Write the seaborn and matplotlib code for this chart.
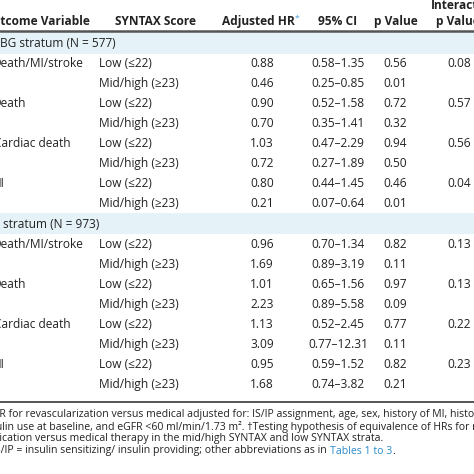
import matplotlib
matplotlib.use("Agg")
import matplotlib.pyplot as plt
import seaborn as sns

sns.set_theme(style="white")
plt.rcParams['font.family'] = ['Open Sans', 'DejaVu Sans']

strata = ["CABG stratum (N = 577)", "PCI stratum (N = 973)"]
outcomes = ["Death/MI/stroke", "Death", "Cardiac death", "MI"]
syntax = ["Low (\u226422)", "Mid/high (\u226523)"]
hr = [[0.88, 0.46, 0.90, 0.70, 1.03, 0.72, 0.80, 0.21],
      [0.96, 1.69, 1.01, 2.23, 1.13, 3.09, 0.95, 1.68]]
ci = [["0.58\u20131.35", "0.25\u20130.85", "0.52\u20131.58", "0.35\u20131.41",
       "0.47\u20132.29", "0.27\u20131.89", "0.44\u20131.45", "0.07\u20130.64"],
      ["0.70\u20131.34", "0.89\u20133.19", "0.65\u20131.56", "0.89\u20135.58",
       "0.52\u20132.45", "0.77\u201312.31", "0.59\u20131.52", "0.74\u20133.82"]]
pval = [["0.56", "0.01", "0.72", "0.32", "0.94", "0.50", "0.46", "0.01"],
        ["0.82", "0.11", "0.97", "0.09", "0.77", "0.11", "0.82", "0.21"]]
pint = [["0.08", "0.57", "0.56", "0.04"], ["0.13", "0.13", "0.22", "0.23"]]
foot_pre = ["*HR ", "and insu", "intensifi", "IS"]
foot_vis = [
    "for revascularization versus medical adjusted for: IS/IP assignment, age, sex, history of MI, history of CHF",
    "lin use at baseline, and eGFR <60 ml/min/1.73 m\u00b2. \u2020Testing hypothesis of equivalence of HRs for revascularization",
    "cation versus medical therapy in the mid/high SYNTAX and low SYNTAX strata.",
    "/IP = insulin sensitizing/ insulin providing; other abbreviations as in ",
]

fig = plt.figure(figsize=(4.74, 4.74), dpi=100)
ax = fig.add_axes([0, 0, 1, 1])
ax.set_xlim(0, 474)
ax.set_ylim(474, 0)
ax.axis("off")

fs = 8.6
col = "#222222"
kw = dict(fontsize=fs, color=col, va="center", clip_on=True)
r = fig.canvas.get_renderer()

def place_vis(prefix, visible, x_vis, y, **k):
    """Place prefix+visible so that the visible part starts at x_vis."""
    p = ax.text(0, y, prefix, ha="left", **k)
    w = p.get_window_extent(r).width
    p.remove()
    return ax.text(x_vis - w, y, prefix + visible, ha="left", **k)

# header
place_vis("Ou", "tcome Variable", 0, 21, fontweight="bold", **kw)
ax.text(156, 21, "SYNTAX Score", fontweight="bold", ha="center", **kw)
ax.text(258, 21, "Adjusted HR", fontweight="bold", ha="center", **kw)
ax.text(295, 18, "*", color="#3a9ad9", fontsize=6, va="center")
ax.text(338, 21, "95% CI", fontweight="bold", ha="center", **kw)
ax.text(396, 21, "p Value", fontweight="bold", ha="center", **kw)
ax.text(431, 5, "Interaction", fontweight="bold", ha="left", **kw)
ax.text(436, 21, "p Value", fontweight="bold", ha="left", **kw)
ax.axhline(31, color="#555555", lw=1.8)

band_y = [(32, 54), (213, 234)]
row0 = [63, 244]
step = 20.1
for s in range(2):
    y0, y1 = band_y[s]
    ax.axhspan(y0, y1, color="#e5f2f8", lw=0)
    pre = "CA" if s == 0 else "PCI "
    place_vis(pre, strata[s][len(pre):], 0 if s == 0 else 3, (y0 + y1) / 2 + 0.5, **kw)
    for i in range(8):
        y = row0[s] + i * step
        if i % 2 == 0:
            o = outcomes[i // 2]
            place_vis(o[0], o[1:], 1, y, **kw)
            ax.text(447, y, pint[s][i // 2], ha="left", **kw)
        ax.text(99, y, syntax[i % 2], ha="left", **kw)
        ax.text(262, y, f"{hr[s][i]:.2f}", ha="center", **kw)
        ax.text(338, y, ci[s][i], ha="center", **kw)
        ax.text(383, y, pval[s][i], ha="left", **kw)

ax.axhline(402, color="#555555", lw=1.4)

fy = [415, 427, 438, 451]
fx = [9, 2, 2, 1]
fk = dict(fontsize=7.6, color=col, va="center", clip_on=True)
for j in range(4):
    tx = place_vis(foot_pre[j], foot_vis[j], fx[j], fy[j], **fk)
bb = tx.get_window_extent(r)
x_end = bb.x1
t2 = ax.text(x_end, fy[3], "Tables 1 to 3", ha="left", fontsize=7.6,
             color="#2a8ac8", va="center", clip_on=True)
ax.text(t2.get_window_extent(r).x1, fy[3], ".", ha="left", **fk)

fig.savefig("out.png", dpi=100)
